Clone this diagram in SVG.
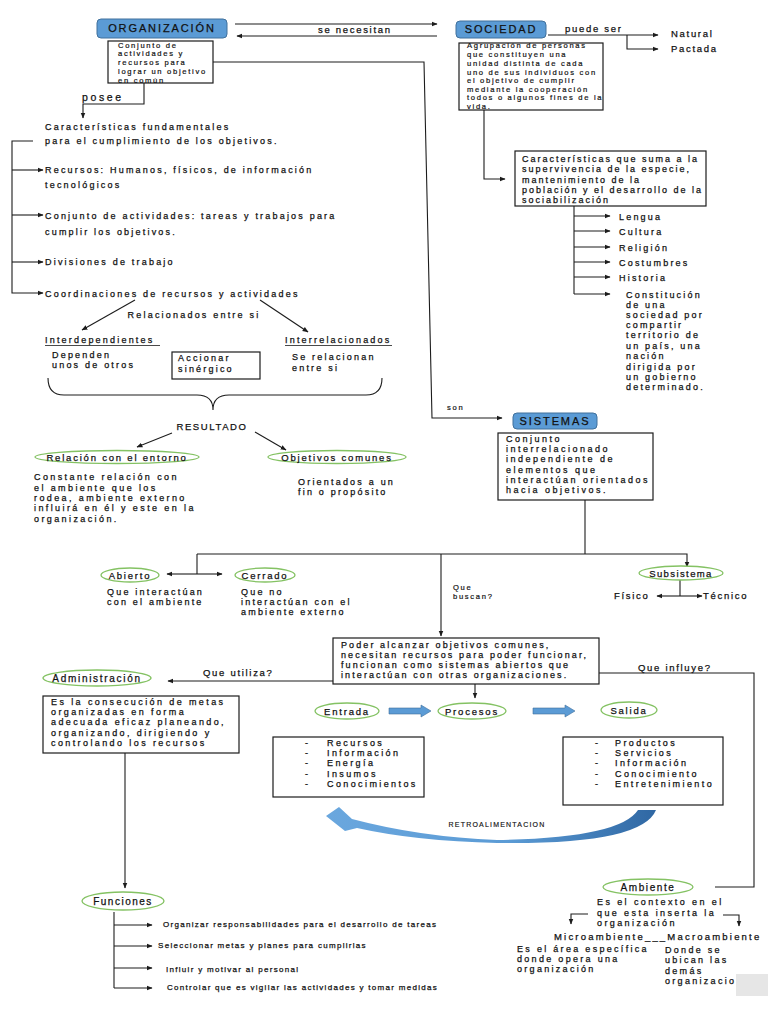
<svg xmlns="http://www.w3.org/2000/svg" width="768" height="1024" viewBox="0 0 768 1024">
<style>
text{font-family:"Liberation Sans",Arial,sans-serif;fill:#111;stroke:#111;stroke-width:0.25px;letter-spacing:2.2px;font-size:9px}
.s{font-size:7.6px;letter-spacing:1.7px;stroke-width:0.2px}
.f{font-size:8px;letter-spacing:1.3px}
.h{font-size:11px;letter-spacing:1.9px}
.l{font-size:9.5px;letter-spacing:1.7px}
.e{font-size:9.5px;letter-spacing:1.8px;text-anchor:middle}
.li{font-size:9px;letter-spacing:2.4px}
.r{font-size:7px;letter-spacing:1.2px;stroke-width:0.15px}
.m{text-anchor:middle}
.ln{fill:none;stroke:#1c1c1c;stroke-width:1.1}
.bx{fill:#fff;stroke:#1c1c1c;stroke-width:1.2}
.bl{fill:#5b9bd5;stroke:#41719c;stroke-width:1}
.el{fill:#fff;stroke:#84c263;stroke-width:1.3}
.ba{fill:#5b9bd5;stroke:#41719c;stroke-width:0.6}
</style>
<defs>
<marker id="ah" viewBox="0 0 10 10" refX="9" refY="5" markerWidth="6" markerHeight="6" orient="auto" markerUnits="userSpaceOnUse"><path d="M0,1 L10,5 L0,9 Z" fill="#1c1c1c"/></marker>
<linearGradient id="rg" x1="0" y1="0" x2="1" y2="0"><stop offset="0" stop-color="#6aa7de"/><stop offset="0.55" stop-color="#5b9bd5"/><stop offset="1" stop-color="#2f67a3"/></linearGradient>
</defs>
<rect width="768" height="1024" fill="#fff"/>

<g id="connectors">
<line class="ln" x1="235" y1="24" x2="437" y2="24" marker-end="url(#ah)"/>
<line class="ln" x1="437" y1="36" x2="237" y2="36" marker-end="url(#ah)"/>
<path class="ln" d="M548,35 H658" marker-end="url(#ah)"/>
<path class="ln" d="M627,35 V49 H658" marker-end="url(#ah)"/>
<path class="ln" d="M213,62 H424 L432,418 H502" marker-end="url(#ah)"/>
<path class="ln" d="M144,83 V104 H83 V118" marker-end="url(#ah)"/>
<path class="ln" d="M33,141 H12 V293 H43" marker-end="url(#ah)"/>
<path class="ln" d="M12,170 H43" marker-end="url(#ah)"/>
<path class="ln" d="M12,215 H43" marker-end="url(#ah)"/>
<path class="ln" d="M12,262 H43" marker-end="url(#ah)"/>
<line class="ln" x1="135" y1="300" x2="82" y2="330" marker-end="url(#ah)"/>
<line class="ln" x1="260" y1="300" x2="308" y2="332" marker-end="url(#ah)"/>
<path class="ln" d="M48,378 Q48,395 64,395 H197 Q213,395 213,410 Q213,395 229,395 H366 Q382,395 382,378"/>
<line class="ln" x1="172" y1="433" x2="137" y2="447" marker-end="url(#ah)"/>
<line class="ln" x1="255" y1="432" x2="286" y2="450" marker-end="url(#ah)"/>
<path class="ln" d="M484,110 V179 H505" marker-end="url(#ah)"/>
<path class="ln" d="M574,206 V294"/>
<path class="ln" d="M574,216 H610" marker-end="url(#ah)"/>
<path class="ln" d="M574,231 H610" marker-end="url(#ah)"/>
<path class="ln" d="M574,247 H610" marker-end="url(#ah)"/>
<path class="ln" d="M574,262 H610" marker-end="url(#ah)"/>
<path class="ln" d="M574,277 H610" marker-end="url(#ah)"/>
<path class="ln" d="M574,294 H610" marker-end="url(#ah)"/>
<path class="ln" d="M585,500 V554"/>
<path class="ln" d="M197,554 H687 V567" marker-end="url(#ah)"/>
<path class="ln" d="M197,554 V574"/>
<path class="ln" d="M197,574 H167" marker-end="url(#ah)"/>
<path class="ln" d="M197,574 H222" marker-end="url(#ah)"/>
<path class="ln" d="M441,554 V636" marker-end="url(#ah)"/>
<path class="ln" d="M680,580 V596"/>
<path class="ln" d="M680,596 H657" marker-end="url(#ah)"/>
<path class="ln" d="M680,596 H702" marker-end="url(#ah)"/>
<path class="ln" d="M333,681 H168" marker-end="url(#ah)"/>
<path class="ln" d="M599,673 H754 V887 H715"/>
<path class="ln" d="M475,684 V698" marker-end="url(#ah)"/>
<polygon class="ba" points="389,708 421,708 421,705 431,711 421,717 421,714 389,714"/>
<polygon class="ba" points="533,708 565,708 565,705 575,711 565,717 565,714 533,714"/>
<path d="M656,810 Q642,845 497,843 Q415,841 357,828 L345,831 L326,816 L339,807 L352,819 Q420,837 497,840 Q620,838 638,810 Z" fill="url(#rg)"/>
<path class="ln" d="M125,753 V888" marker-end="url(#ah)"/>
<path class="ln" d="M114,912 V988"/>
<path class="ln" d="M114,925 H152" marker-end="url(#ah)"/>
<path class="ln" d="M114,946 H152" marker-end="url(#ah)"/>
<path class="ln" d="M114,968 H152" marker-end="url(#ah)"/>
<path class="ln" d="M114,988 H152" marker-end="url(#ah)"/>
<path class="ln" d="M588,914 H571 V924" marker-end="url(#ah)"/>
<path class="ln" d="M723,915 H739 V926" marker-end="url(#ah)"/>
</g>

<g id="labels">
<text class="l" x="318" y="33">se necesitan</text>
<text class="l" x="565" y="32">puede ser</text>
<text class="l" x="671" y="37">Natural</text>
<text class="l" x="671" y="52">Pactada</text>
<text class="s" x="447" y="410">son</text>
<text x="82" y="101" style="font-size:10.5px;letter-spacing:2.6px">posee</text>
<text x="194" y="318" class="m">Relacionados entre si</text>
<text x="212" y="430" class="m" style="font-size:9.5px;letter-spacing:1.6px">RESULTADO</text>
<text class="s" x="453" y="590">Que</text>
<text class="s" x="453" y="599">buscan?</text>
<text class="l" x="203" y="676">Que utiliza?</text>
<text class="l" x="638" y="671">Que influye?</text>
<text class="r m" x="497" y="826.5">RETROALIMENTACION</text>
</g>

<g id="organizacion">
<rect class="bl" x="97" y="19" width="130" height="19" rx="4"/>
<text class="h m" x="162" y="32">ORGANIZACIÓN</text>
</g>
<g id="organizacion-desc">
<rect class="bx" x="108" y="41" width="105" height="42"/>
<text class="s" x="118" y="47.5">Conjunto de</text>
<text class="s" x="118" y="56">actividades y</text>
<text class="s" x="118" y="65">recursos para</text>
<text class="s" x="118" y="74">lograr un objetivo</text>
<text class="s" x="118" y="82.5">en común</text>
</g>
<g id="caracteristicas">
<text x="45" y="130">Características fundamentales</text>
<text x="45" y="144">para el cumplimiento de los objetivos.</text>
<text x="45" y="173">Recursos: Humanos, físicos, de información</text>
<text x="45" y="188">tecnológicos</text>
<text x="45" y="218.5">Conjunto de actividades: tareas y trabajos para</text>
<text x="45" y="234.5">cumplir los objetivos.</text>
<text x="45" y="265">Divisiones de trabajo</text>
<text x="45" y="296.5">Coordinaciones de recursos y actividades</text>
</g>
<g id="interdependientes">
<text x="45" y="342.5">Interdependientes</text>
<line x1="45" y1="345.5" x2="160" y2="345.5" stroke="#1c1c1c" stroke-width="0.8"/>
<text x="52" y="357.5">Dependen</text>
<text x="52" y="367.5">unos de otros</text>
</g>
<g id="accionar">
<rect class="bx" x="172" y="352" width="88" height="27"/>
<text x="178" y="360.5">Accionar</text>
<text x="178" y="371.5">sinérgico</text>
</g>
<g id="interrelacionados">
<text x="285" y="342.5">Interrelacionados</text>
<line x1="285" y1="345.5" x2="392" y2="345.5" stroke="#1c1c1c" stroke-width="0.8"/>
<text x="292" y="360">Se relacionan</text>
<text x="292" y="370.5">entre si</text>
</g>
<g id="relacion-entorno">
<ellipse class="el" cx="117" cy="457" rx="82" ry="6.5"/>
<text class="e" x="117" y="460.5">Relación con el entorno</text>
<text x="34" y="480" style="letter-spacing:2.4px">Constante relación con</text>
<text x="34" y="490.5" style="letter-spacing:2.4px">el ambiente que los</text>
<text x="34" y="500.5" style="letter-spacing:2.4px">rodea, ambiente externo</text>
<text x="34" y="511" style="letter-spacing:2.4px">influirá en él y este en la</text>
<text x="34" y="521.5" style="letter-spacing:2.4px">organización.</text>
</g>
<g id="objetivos-comunes">
<ellipse class="el" cx="337" cy="457" rx="69" ry="6.5"/>
<text class="e" x="337" y="460.5">Objetivos comunes</text>
<text x="298" y="484.5">Orientados a un</text>
<text x="298" y="494.5">fin o propósito</text>
</g>

<g id="sociedad">
<rect class="bl" x="456" y="21" width="90" height="17" rx="4"/>
<text class="h m" x="501" y="33">SOCIEDAD</text>
</g>
<g id="sociedad-desc">
<rect class="bx" x="459" y="43" width="144" height="67"/>
<text class="s" x="467" y="48">Agrupación de personas</text>
<text class="s" x="467" y="56.5">que constituyen una</text>
<text class="s" x="467" y="65.5">unidad distinta de cada</text>
<text class="s" x="467" y="74.5">uno de sus individuos con</text>
<text class="s" x="467" y="83">el objetivo de cumplir</text>
<text class="s" x="467" y="91.5">mediante la cooperación</text>
<text class="s" x="467" y="100">todos o algunos fines de la</text>
<text class="s" x="467" y="108.5">vida.</text>
</g>
<g id="sociedad-caracteristicas">
<rect class="bx" x="515" y="151" width="191" height="55"/>
<text x="522" y="161.5" style="letter-spacing:2px">Características que suma a la</text>
<text x="522" y="172" style="letter-spacing:2px">supervivencia de la especie,</text>
<text x="522" y="182.5" style="letter-spacing:2px">mantenimiento de la</text>
<text x="522" y="192.5" style="letter-spacing:2px">población y el desarrollo de la</text>
<text x="522" y="203" style="letter-spacing:2px">sociabilización</text>
</g>
<g id="sociedad-items">
<text x="619" y="219.5">Lengua</text>
<text x="619" y="234.5">Cultura</text>
<text x="619" y="250.5">Religión</text>
<text x="619" y="265.5">Costumbres</text>
<text x="619" y="280.5">Historia</text>
<text x="626" y="297.5">Constitución</text>
<text x="626" y="307.5">de una</text>
<text x="626" y="317.5">sociedad por</text>
<text x="626" y="328">compartir</text>
<text x="626" y="338">territorio de</text>
<text x="626" y="348.5">un país, una</text>
<text x="626" y="359">nación</text>
<text x="626" y="369.5">dirigida por</text>
<text x="626" y="379.5">un gobierno</text>
<text x="626" y="390">determinado.</text>
</g>

<g id="sistemas">
<rect class="bl" x="513" y="413" width="84" height="16" rx="4"/>
<text class="h m" x="555" y="425">SISTEMAS</text>
</g>
<g id="sistemas-desc">
<rect class="bx" x="498" y="433" width="155" height="67"/>
<text x="506" y="441.5" style="letter-spacing:2.5px">Conjunto</text>
<text x="506" y="451.5" style="letter-spacing:2.5px">interrelacionado</text>
<text x="506" y="462" style="letter-spacing:2.5px">independiente de</text>
<text x="506" y="472.5" style="letter-spacing:2.5px">elementos que</text>
<text x="506" y="482.5" style="letter-spacing:2.5px">interactúan orientados</text>
<text x="506" y="492.5" style="letter-spacing:2.5px">hacia objetivos.</text>
</g>
<g id="abierto">
<ellipse class="el" cx="130" cy="575" rx="29" ry="7"/>
<text class="e" x="130" y="578.5">Abierto</text>
<text x="107" y="594.5">Que interactúan</text>
<text x="107" y="604.5">con el ambiente</text>
</g>
<g id="cerrado">
<ellipse class="el" cx="265" cy="575" rx="30" ry="7"/>
<text class="e" x="265" y="578.5">Cerrado</text>
<text x="241" y="594.5">Que no</text>
<text x="241" y="604.5">interactúan con el</text>
<text x="241" y="614.5">ambiente externo</text>
</g>
<g id="subsistema">
<ellipse class="el" cx="681" cy="573" rx="42" ry="7"/>
<text class="e" x="681" y="576.5" style="letter-spacing:1.4px">Subsistema</text>
<text class="l" x="614" y="598.5">Físico</text>
<text class="l" x="703" y="598.5">Técnico</text>
</g>
<g id="objetivos-box">
<rect class="bx" x="333" y="638" width="266" height="46"/>
<text x="341" y="648" style="letter-spacing:2.1px">Poder alcanzar objetivos comunes,</text>
<text x="341" y="657.5" style="letter-spacing:2.1px">necesitan recursos para poder funcionar,</text>
<text x="341" y="667.5" style="letter-spacing:2.1px">funcionan como sistemas abiertos que</text>
<text x="341" y="677.5" style="letter-spacing:2.1px">interactúan con otras organizaciones.</text>
</g>
<g id="entrada">
<ellipse class="el" cx="347" cy="711" rx="32" ry="8"/>
<text class="e" x="347" y="714.5">Entrada</text>
</g>
<g id="procesos">
<ellipse class="el" cx="472" cy="711" rx="34" ry="8"/>
<text class="e" x="472" y="714.5">Procesos</text>
</g>
<g id="salida">
<ellipse class="el" cx="629" cy="710" rx="28" ry="8"/>
<text class="e" x="629" y="713.5">Salida</text>
</g>
<g id="entrada-lista">
<rect class="bx" x="273" y="737" width="151" height="60"/>
<text class="li" x="305" y="746">-</text><text class="li" x="327" y="746">Recursos</text>
<text class="li" x="305" y="756">-</text><text class="li" x="327" y="756">Información</text>
<text class="li" x="305" y="766">-</text><text class="li" x="327" y="766">Energía</text>
<text class="li" x="305" y="776.5">-</text><text class="li" x="327" y="776.5">Insumos</text>
<text class="li" x="305" y="786.5">-</text><text class="li" x="327" y="786.5">Conocimientos</text>
</g>
<g id="salida-lista">
<rect class="bx" x="563" y="737" width="160" height="68"/>
<text class="li" x="595" y="746">-</text><text class="li" x="615" y="746">Productos</text>
<text class="li" x="595" y="756">-</text><text class="li" x="615" y="756">Servicios</text>
<text class="li" x="595" y="766">-</text><text class="li" x="615" y="766">Información</text>
<text class="li" x="595" y="776.5">-</text><text class="li" x="615" y="776.5">Conocimiento</text>
<text class="li" x="595" y="786.5">-</text><text class="li" x="615" y="786.5">Entretenimiento</text>
</g>
<g id="administracion">
<ellipse class="el" cx="97" cy="678" rx="54" ry="8"/>
<text class="e" x="97" y="681.5" style="font-size:10px;letter-spacing:1.7px">Administración</text>
</g>
<g id="administracion-desc">
<rect class="bx" x="43" y="696" width="196" height="57"/>
<text x="51" y="705" style="letter-spacing:2.4px">Es la consecución de metas</text>
<text x="51" y="715" style="letter-spacing:2.4px">organizadas en forma</text>
<text x="51" y="725" style="letter-spacing:2.4px">adecuada eficaz planeando,</text>
<text x="51" y="735.5" style="letter-spacing:2.4px">organizando, dirigiendo y</text>
<text x="51" y="745.5" style="letter-spacing:2.4px">controlando los recursos</text>
</g>
<g id="funciones">
<ellipse class="el" cx="123" cy="901" rx="41" ry="9"/>
<text class="e" x="123" y="904.5" style="font-size:10px;letter-spacing:1.5px">Funciones</text>
<text class="f" x="163" y="927">Organizar responsabilidades para el desarrollo de tareas</text>
<text class="f" x="158" y="948">Seleccionar metas y planes para cumplirlas</text>
<text class="f" x="166" y="972">Influir y motivar al personal</text>
<text class="f" x="167" y="990">Controlar que es vigilar las actividades y tomar medidas</text>
</g>
<g id="ambiente">
<ellipse class="el" cx="648" cy="887" rx="45" ry="8"/>
<text class="e" x="648" y="890.5" style="font-size:10px;letter-spacing:1.6px">Ambiente</text>
<text x="597" y="905" style="letter-spacing:2.4px">Es el contexto en el</text>
<text x="597" y="915.5" style="letter-spacing:2.4px">que esta inserta la</text>
<text x="597" y="926" style="letter-spacing:2.4px">organización</text>
</g>
<g id="micro-macro">
<text x="554" y="939.5" style="font-size:9.5px;letter-spacing:2.2px">Microambiente___Macroambiente</text>
<text x="517" y="951.5" style="letter-spacing:2.3px">Es el área específica</text>
<text x="517" y="961.5" style="letter-spacing:2.3px">donde opera una</text>
<text x="517" y="971.5" style="letter-spacing:2.3px">organización</text>
<text x="665" y="952.5" style="letter-spacing:2.3px">Donde se</text>
<text x="665" y="963" style="letter-spacing:2.3px">ubican las</text>
<text x="665" y="973.5" style="letter-spacing:2.3px">demás</text>
<text x="665" y="984" style="letter-spacing:2.3px">organizaciones</text>
</g>
<rect x="736" y="974" width="32" height="22" fill="#e6e6e6"/>
</svg>
